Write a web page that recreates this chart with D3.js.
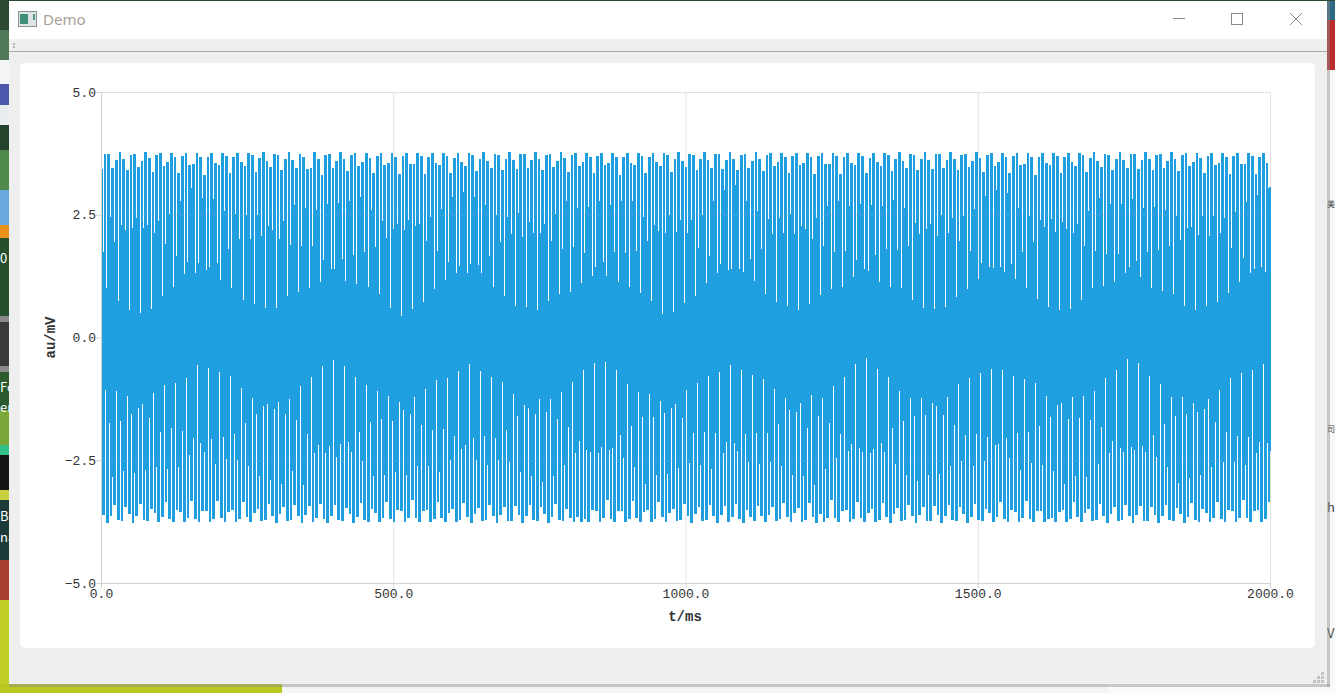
<!DOCTYPE html>
<html lang="en">
	<head>
		<meta charset="utf-8">
		<title>Demo</title>
		<script type="text/javascript" src="https://d3js.org/d3.v7.min.js"></script>
		<style type="text/css">
			body{
				margin: 0;
				overflow: hidden;
				background: #fff;
			}
			svg{
				display: block;
			}
			.tick text{
				font-family: "Liberation Mono", monospace;
				font-size: 13px;
				fill: #333;
			}
			.title{
				font-family: "Liberation Mono", monospace;
				font-size: 14px;
				font-weight: bold;
				fill: #333;
			}
		</style>
	</head>
	<body>
		<script type="text/javascript">

			//Axis labels and ticks
			var xTicks = [0, 500, 1000, 1500, 2000];
			var yTicks = [-5, -2.5, 0, 2.5, 5];
			var xTitle = "t/ms";
			var yTitle = "au/mV";

			//Sample spacing of the strokes, in ms
			var sampleStep = 6.29;
			var upperStart = 3.1;
			var lowerStart = 0.3;

			//Tops of the strokes, above zero (mV)
			var upperPeaks = [
				3.43,3.74,3.74,3.45,3.61,3.78,3.63,3.41,3.72,3.74,3.47,3.59,3.78,3.66,3.37,3.72,3.76,3.49,3.57,3.76,
				3.68,3.35,3.70,3.76,3.51,3.53,3.76,3.68,3.31,3.68,3.76,3.55,3.51,3.76,3.70,3.35,3.68,3.76,3.57,3.49,
				3.76,3.72,3.37,3.66,3.78,3.59,3.47,3.74,3.72,3.41,3.63,3.78,3.61,3.45,3.74,3.68,3.43,3.45,3.78,3.63,
				3.31,3.72,3.74,3.45,3.59,
				3.78,3.63,3.39,3.72,3.76,3.49,3.57,3.76,3.66,3.35,3.70,3.76,3.51,3.55,3.76,3.68,3.33,3.70,3.76,3.53,
				3.53,3.76,3.70,3.33,3.68,3.76,3.55,3.51,3.76,3.70,3.35,3.66,3.76,3.57,3.49,3.76,3.72,3.39,3.63,3.78,
				3.59,3.45,3.74,3.72,3.41,3.63,3.78,3.61,3.43,3.74,3.74,3.45,3.61,3.78,3.63,3.41,3.72,3.74,3.47,3.59,
				3.78,3.66,3.37,3.72,3.76,
				3.49,3.57,3.76,3.68,3.35,3.70,3.76,3.51,3.55,3.76,3.68,3.31,3.68,3.76,3.55,3.51,3.76,3.70,3.35,3.68,
				3.76,3.57,3.49,3.76,3.72,3.37,3.63,3.78,3.59,3.47,3.74,3.72,3.41,3.63,3.78,3.61,3.45,3.74,3.74,3.43,
				3.61,3.78,3.63,3.41,3.72,3.74,3.45,3.59,3.78,3.63,3.39,3.72,3.76,3.49,3.57,3.76,3.68,3.35,3.70,3.76,
				3.51,3.55,3.76,3.68,3.33,
				3.70,3.76,3.53,3.53,3.76,3.70,3.33,3.68,3.76,3.55,3.51,3.76,3.70,3.35,3.66,3.76,3.57,3.49,3.76,3.72,
				3.39,3.63,3.78,3.59,3.45,3.74,3.72,3.41,3.63,3.78,3.61,3.43,3.74,3.74,3.45,3.61,3.78,3.63,3.41,3.72,
				3.74,3.47,3.59,3.78,3.66,3.37,3.72,3.76,3.49,3.57,3.76,3.68,3.35,3.70,3.76,3.51,3.53,3.76,3.68,3.31,
				3.68,3.76,3.55,3.51,3.76,3.70,
				3.35,3.68,3.76,3.57,3.49,3.76,3.72,3.37,3.66,3.78,3.59,3.47,3.74,3.72,3.41,3.63,3.78,3.61,3.45,3.74,
				3.74,3.43,3.61,3.78,3.63,3.41,3.72,3.74,3.45,3.59,3.78,3.63,3.39,3.72,3.76,3.49,3.57,3.76,3.66,3.35,
				3.70,3.76,3.51,3.55,3.76,3.68,3.33,3.70,3.76,3.53,3.53,3.76,3.70,3.33,3.68,3.76,3.55,3.06
			];

			//How far down each slit between upper strokes reaches (mV)
			var upperDips = [
				1.75,1.00,2.46,1.95,0.75,2.29,2.19,0.56,2.22,2.43,0.49,2.24,2.29,0.59,2.12,2.37,0.85,1.91,2.51,1.03,
				1.65,2.78,1.29,1.54,3.05,1.32,1.52,2.85,1.37,1.44,2.83,1.52,1.17,2.58,1.81,1.00,2.51,2.01,0.76,2.49,
				2.01,0.69,2.49,2.07,0.61,2.28,2.19,0.61,2.01,2.37,0.85,1.88,2.70,0.93,1.87,2.64,1.00,1.86,2.60,1.14,
				1.58,2.71,1.39,1.39,2.73,
				1.60,1.15,2.77,1.68,1.09,2.87,1.75,1.03,2.60,1.85,0.88,2.37,2.03,0.61,2.21,2.32,0.44,2.19,2.39,0.58,
				2.27,2.32,0.73,1.96,2.46,0.99,1.76,2.62,1.17,1.54,2.87,1.32,1.45,2.97,1.31,1.50,2.87,1.48,1.31,2.70,
				1.66,1.03,2.49,1.94,0.85,2.46,2.11,0.64,2.53,2.05,0.63,2.36,2.13,0.56,2.13,2.31,0.75,1.96,2.51,0.88,
				1.80,2.78,0.93,1.84,2.64,
				1.12,1.73,2.66,1.26,1.44,2.77,1.54,1.26,2.70,1.75,1.14,2.78,1.73,1.03,2.78,1.77,0.91,2.46,1.96,0.75,
				2.30,2.17,0.48,2.13,2.49,0.52,2.15,2.39,0.71,2.13,2.39,0.85,1.83,2.49,1.12,1.65,2.77,1.32,1.50,3.00,
				1.38,1.40,3.11,1.40,1.34,2.78,1.60,1.16,2.58,1.81,0.89,2.41,2.11,0.73,2.44,2.13,0.65,2.51,2.11,0.57,
				2.27,2.20,0.69,2.01,2.44,
				0.86,1.87,2.68,0.99,1.75,2.77,1.03,1.77,2.68,1.24,1.58,2.72,1.40,1.36,2.70,1.69,1.14,2.68,1.81,1.03,
				2.80,1.79,1.01,2.64,1.87,0.77,2.34,2.11,0.61,2.20,2.32,0.59,2.07,2.50,0.63,2.13,2.44,0.83,1.97,2.48,
				0.99,1.77,2.62,1.20,1.52,2.89,1.44,1.42,3.01,1.44,1.34,2.95,1.50,1.20,2.64,1.75,1.01,2.48,1.95,0.79,
				2.40,2.26,0.63,2.42,2.15,0.55,
				2.36,2.20,0.59,2.13,2.32,0.77,1.87,2.58,1.01,1.77,2.85,1.05,1.71,2.72,1.14,1.71,2.72,1.32,1.44,2.83,
				1.56,1.24,2.64,1.75,1.01,2.66,1.79,0.95,2.60,1.87,0.89,2.48,1.99,0.65,2.22,2.26,0.57,2.09,2.48,0.65,
				2.07,2.48,0.73,2.13,2.44,0.91,1.83,2.56,1.14,1.62,2.75,1.32,1.40,2.90,1.44,1.34,3.04
			];

			//Ends of the strokes, below zero (mV)
			var lowerPeaks = [
				-3.62,-3.77,-3.64,-3.41,-3.72,-3.74,-3.45,-3.60,-3.77,-3.64,-3.39,-3.72,-3.74,-3.49,-3.58,-3.76,-3.66,-3.35,-3.70,-3.76,
				-3.51,-3.56,-3.76,-3.68,-3.33,-3.70,-3.76,-3.54,-3.54,-3.76,-3.70,-3.33,-3.68,-3.76,-3.56,-3.51,-3.76,-3.70,-3.35,-3.66,
				-3.76,-3.58,-3.49,-3.74,-3.72,-3.39,-3.64,-3.78,-3.60,-3.45,-3.74,-3.72,-3.41,-3.64,-3.78,-3.62,-3.43,-3.76,-3.68,-3.39,
				-3.70,-3.78,-3.64,-3.41,-3.72,
				-3.74,-3.48,-3.60,-3.78,-3.66,-3.37,-3.72,-3.76,-3.50,-3.58,-3.76,-3.68,-3.35,-3.70,-3.76,-3.51,-3.54,-3.76,-3.68,-3.31,
				-3.68,-3.76,-3.54,-3.51,-3.76,-3.70,-3.35,-3.68,-3.76,-3.58,-3.50,-3.76,-3.72,-3.37,-3.66,-3.78,-3.60,-3.48,-3.74,-3.72,
				-3.41,-3.64,-3.78,-3.62,-3.45,-3.74,-3.74,-3.43,-3.62,-3.78,-3.64,-3.41,-3.72,-3.74,-3.45,-3.60,-3.78,-3.66,-3.39,-3.72,
				-3.74,-3.50,-3.68,-3.76,-3.66,-3.76,
				-3.70,-3.76,-3.51,-3.54,-3.76,-3.68,-3.31,-3.70,-3.76,-3.54,-3.54,-3.76,-3.70,-3.33,-3.68,-3.76,-3.56,-3.51,-3.76,-3.70,
				-3.35,-3.66,-3.76,-3.58,-3.49,-3.74,-3.72,-3.39,-3.64,-3.78,-3.60,-3.45,-3.74,-3.72,-3.41,-3.64,-3.78,-3.62,-3.43,-3.76,
				-3.66,-3.39,-3.70,-3.78,-3.51,-3.66,-3.74,-3.43,-3.64,-3.76,-3.62,-3.45,-3.74,-3.70,-3.37,-3.66,-3.76,-3.58,-3.48,-3.76,
				-3.72,-3.37,-3.66,-3.78,-3.60,
				-3.76,-3.68,-3.31,-3.68,-3.76,-3.54,-3.51,-3.76,-3.70,-3.35,-3.68,-3.76,-3.58,-3.50,-3.76,-3.72,-3.37,-3.66,-3.78,-3.60,
				-3.48,-3.74,-3.72,-3.41,-3.64,-3.78,-3.62,-3.45,-3.74,-3.74,-3.43,-3.62,-3.78,-3.64,-3.41,-3.72,-3.74,-3.45,-3.60,-3.78,
				-3.66,-3.39,-3.72,-3.74,-3.50,-3.58,-3.76,-3.66,-3.35,-3.70,-3.76,-3.51,-3.56,-3.76,-3.68,-3.33,-3.70,-3.76,-3.54,-3.54,
				-3.76,-3.70,-3.68,-3.76,-3.56,
				-3.51,-3.76,-3.70,-3.35,-3.66,-3.76,-3.58,-3.49,-3.74,-3.72,-3.39,-3.64,-3.78,-3.60,-3.45,-3.74,-3.72,-3.41,-3.64,-3.78,
				-3.62,-3.43,-3.74,-3.74,-3.45,-3.62,-3.78,-3.64,-3.41,-3.72,-3.74,-3.48,-3.60,-3.78,-3.66,-3.37,-3.72,-3.76,-3.50,-3.58,
				-3.76,-3.68,-3.35,-3.70,-3.76,-3.51,-3.54,-3.76,-3.68,-3.31,-3.68,-3.76,-3.54,-3.51,-3.76,-3.70,-3.35,-3.35
			];

			//How far up each slit between lower strokes reaches (mV)
			var lowerDips = [
				-3.06,-1.07,-1.74,-2.84,-1.09,-1.70,-2.72,-1.19,-1.56,-2.75,-1.44,-1.36,-2.70,-1.64,-1.13,-2.64,-1.93,-0.97,-2.68,-1.84,
				-0.93,-2.64,-1.91,-0.83,-2.39,-2.05,-0.56,-2.15,-2.33,-0.62,-2.07,-2.58,-0.70,-2.03,-2.48,-0.79,-1.97,-2.50,-1.03,-1.74,
				-2.62,-1.23,-1.56,-2.82,-1.40,-1.36,-2.90,-1.46,-1.32,-2.99,-1.56,-1.25,-2.72,-1.68,-0.99,-3.01,-1.97,-0.81,-2.35,-2.19,
				-0.58,-2.35,-2.21,-0.46,-2.44,
				-2.17,-0.58,-2.13,-2.33,-0.81,-1.93,-2.52,-0.97,-1.72,-2.82,-1.09,-1.66,-2.80,-1.19,-1.70,-2.74,-1.32,-1.48,-2.80,-1.56,
				-1.21,-2.62,-1.78,-1.05,-2.62,-1.89,-0.87,-2.74,-1.87,-0.83,-2.50,-2.01,-0.68,-2.27,-2.19,-0.54,-2.05,-2.50,-0.68,-2.01,
				-2.60,-0.81,-2.05,-2.50,-0.91,-1.89,-2.54,-1.15,-1.60,-2.74,-1.38,-1.44,-2.82,-1.56,-1.25,-2.94,-1.52,-1.25,-2.82,-1.66,
				-1.11,-2.60,-1.82,-0.91,-2.35,-2.11,
				-0.66,-2.29,-2.33,-0.52,-2.35,-2.23,-0.50,-2.29,-2.25,-0.66,-1.99,-2.46,-0.95,-1.80,-2.64,-1.11,-1.62,-2.99,-1.15,-1.62,
				-2.80,-1.30,-1.54,-2.78,-1.44,-1.36,-2.66,-1.64,-1.07,-2.56,-1.95,-0.93,-2.60,-1.93,-0.79,-2.68,-1.95,-0.70,-2.35,-2.13,
				-0.56,-2.15,-2.31,-0.66,-1.97,-2.54,-0.77,-1.95,-2.58,-0.85,-1.95,-2.54,-1.05,-1.76,-2.62,-1.23,-1.48,-2.80,-1.52,-1.34,
				-2.82,-1.85,-1.17,-3.01,-1.60,
				-1.23,-2.68,-1.74,-0.99,-2.46,-1.97,-0.81,-2.31,-2.17,-0.54,-2.25,-2.33,-0.42,-2.35,-2.27,-0.64,-2.15,-2.33,-0.81,-1.84,
				-2.58,-1.09,-1.70,-2.80,-1.23,-1.60,-2.92,-1.23,-1.58,-2.80,-1.34,-1.40,-2.77,-1.58,-1.21,-2.62,-1.78,-0.95,-2.52,-1.99,
				-0.83,-2.62,-1.97,-0.72,-2.52,-2.03,-0.64,-2.19,-2.17,-0.66,-2.05,-2.46,-0.79,-1.95,-2.70,-0.85,-1.93,-2.56,-0.93,-1.80,
				-2.60,-1.19,-1.62,-2.72,-1.38,
				-1.34,-2.99,-1.66,-1.21,-2.82,-1.64,-1.19,-2.84,-1.68,-1.09,-2.58,-1.82,-0.83,-2.35,-2.11,-0.66,-2.25,-2.33,-0.44,-2.23,
				-2.29,-0.52,-2.21,-2.33,-0.79,-1.99,-2.44,-0.95,-1.76,-2.64,-1.21,-1.60,-2.97,-1.21,-1.56,-2.86,-1.34,-1.52,-2.80,-1.46,
				-1.25,-2.64,-1.72,-1.07,-2.54,-1.93,-0.83,-2.54,-2.01,-0.72,-2.60,-2.03,-0.66,-2.35,-2.13,-0.54,-2.15,-2.31
			];

			//Desktop behind the window: [from, to, colour]
			var leftBands = [[0,30,"#2c4a32"],[30,60,"#4f7a58"],[60,84,"#f2f4f6"],[84,105,"#4a58ac"],[105,125,"#e9edf0"],[125,150,"#24422c"],[150,190,"#4f8a4a"],[190,225,"#6aa8e0"],[225,238,"#e8921c"],[238,316,"#24502c"],[316,322,"#8a8a8a"],[322,366,"#3a3a3a"],[366,372,"#8a8a8a"],[372,410,"#2a5a2e"],[410,445,"#7aa838"],[445,455,"#30c088"],[455,490,"#141414"],[490,500,"#c8d040"],[500,560,"#1c3a38"],[560,600,"#a83c30"],[600,693,"#c0d028"]];
			var rightBands = [[0,20,"#2c6a84"],[20,70,"#b82c2c"],[70,693,"#f8f8f8"]];
			var bottomBands = [[0,282,"#b8c820"],[282,1108,"#f4f4f4"],[1108,1335,"#fafafa"]];
			var desktopText = [[0,263,"0",13],[0,392,"Fo",13],[0,412,"er",13],[0,521,"Br",13],[0,542,"na",13],[1327,207,"美",8],[1327,432,"司",8],[1327,512,"h",13],[1327,638,"V",13]];

			var svg = d3.select("body")
						.append("svg")
						.attr("width", 1335)
						.attr("height", 693);

			//Desktop
			svg.selectAll(".left")
				.data(leftBands)
				.enter()
				.append("rect")
				.attr("x", 0)
				.attr("y", function(d) {return d[0];})
				.attr("width", 10)
				.attr("height", function(d) {return d[1]-d[0];})
				.attr("fill", function(d) {return d[2];});

			svg.selectAll(".right")
				.data(rightBands)
				.enter()
				.append("rect")
				.attr("x", 1325)
				.attr("y", function(d) {return d[0];})
				.attr("width", 10)
				.attr("height", function(d) {return d[1]-d[0];})
				.attr("fill", function(d) {return d[2];});

			svg.selectAll(".bottom")
				.data(bottomBands)
				.enter()
				.append("rect")
				.attr("x", function(d) {return d[0];})
				.attr("y", 684)
				.attr("width", function(d) {return d[1]-d[0];})
				.attr("height", 9)
				.attr("fill", function(d) {return d[2];});

			svg.append("rect").attr("x", 0).attr("y", 0).attr("width", 1335).attr("height", 1).attr("fill", "#2c4a32");

			svg.selectAll(".desktopText")
				.data(desktopText)
				.enter()
				.append("text")
				.attr("x", function(d) {return d[0];})
				.attr("y", function(d) {return d[1];})
				.attr("font-family", "Noto Sans CJK SC, Noto Sans, sans-serif")
				.attr("font-size", function(d) {return d[3];})
				.attr("fill", function(d) {return d[0] > 0 ? "#444" : "#fff";})
				.text(function(d) {return d[2];});

			//Window
			svg.append("rect").attr("x", 1327).attr("y", 1).attr("width", 3).attr("height", 686).attr("fill", "#8c8c8c").attr("opacity", 0.45);
			svg.append("rect").attr("x", 9).attr("y", 684).attr("width", 1321).attr("height", 3).attr("fill", "#8c8c8c").attr("opacity", 0.45);
			svg.append("rect").attr("x", 9).attr("y", 1).attr("width", 1318).attr("height", 683).attr("fill", "#efefef");
			svg.append("rect").attr("x", 9).attr("y", 1).attr("width", 1318).attr("height", 38).attr("fill", "#fff");
			svg.append("rect").attr("x", 9).attr("y", 51).attr("width", 1318).attr("height", 1).attr("fill", "#a8a8a8");
			svg.append("rect").attr("x", 20).attr("y", 63).attr("width", 1295).attr("height", 585).attr("rx", 5).attr("fill", "#fff");

			//Title bar
			svg.append("rect").attr("x", 18.5).attr("y", 11.5).attr("width", 18).attr("height", 15).attr("fill", "#dfe4e4").attr("stroke", "#8a9498");
			svg.append("rect").attr("x", 20).attr("y", 14).attr("width", 8).attr("height", 10).attr("fill", "#3f8f78");
			svg.append("rect").attr("x", 33).attr("y", 14).attr("width", 2).attr("height", 6).attr("fill", "#4f9a88");
			svg.append("text").attr("x", 43).attr("y", 25).attr("font-family", "Noto Sans, sans-serif").attr("font-size", 15).attr("fill", "#a8a095").text("Demo");
			svg.append("line").attr("x1", 1173).attr("x2", 1185).attr("y1", 18.5).attr("y2", 18.5).attr("stroke", "#888");
			svg.append("rect").attr("x", 1231.5).attr("y", 13.5).attr("width", 11).attr("height", 11).attr("fill", "none").attr("stroke", "#888");
			svg.append("line").attr("x1", 1290).attr("x2", 1302).attr("y1", 13).attr("y2", 25).attr("stroke", "#888");
			svg.append("line").attr("x1", 1302).attr("x2", 1290).attr("y1", 13).attr("y2", 25).attr("stroke", "#888");

			//Grips
			svg.selectAll(".toolGrip")
				.data([43, 46])
				.enter()
				.append("rect")
				.attr("x", 13)
				.attr("y", function(d) {return d;})
				.attr("width", 2)
				.attr("height", 2)
				.attr("fill", "#b4b4b4");

			svg.selectAll(".sizeGrip")
				.data([[1321,672],[1317,676],[1321,676],[1313,680],[1317,680],[1321,680]])
				.enter()
				.append("rect")
				.attr("x", function(d) {return d[0];})
				.attr("y", function(d) {return d[1];})
				.attr("width", 3)
				.attr("height", 3)
				.attr("fill", "#c4c4c4");

			//Scales
			var x = d3.scaleLinear().domain([0, 2000]).range([101, 1270]);
			var y = d3.scaleLinear().domain([-5, 5]).range([583, 92]);

			//Grid
			var grid = svg.append("g").attr("class", "grid");

			grid.selectAll(".gridX")
				.data(xTicks)
				.enter()
				.append("line")
				.attr("x1", function(d) {return x(d)+0.5;})
				.attr("x2", function(d) {return x(d)+0.5;})
				.attr("y1", y(5))
				.attr("y2", y(-5))
				.attr("stroke", "#e2e2e2");

			grid.selectAll(".gridY")
				.data(yTicks)
				.enter()
				.append("line")
				.attr("x1", x(0))
				.attr("x2", x(2000))
				.attr("y1", function(d) {return y(d)+0.5;})
				.attr("y2", function(d) {return y(d)+0.5;})
				.attr("stroke", "#e2e2e2");

			//Slit positions in ms
			var upperTimes = upperDips.map(function(d, i) {return upperStart+i*sampleStep;});
			var lowerTimes = lowerDips.map(function(d, i) {return lowerStart+i*sampleStep;});

			//Pixel edge of a slit
			function slit(t) {
				return Math.min(Math.floor(x(t)+0.5), x(2000)+1);
			}

			//crisp edges keep the aliased look and close the seam at zero
			var wave = svg.append("g")
						.attr("class", "wave")
						.attr("fill", "#1f9ee0")
						.attr("shape-rendering", "crispEdges");

			//Strokes between slits, upper half
			wave.selectAll(".upper")
				.data(upperPeaks)
				.enter()
				.append("rect")
				.attr("class", "upper")
				.attr("x", function(d, i) {return i == 0 ? x(0) : slit(upperTimes[i-1])+1;})
				.attr("y", function(d) {return y(d);})
				.attr("width", function(d, i) {
					var left = i == 0 ? x(0) : slit(upperTimes[i-1])+1;
					var right = i < upperTimes.length ? slit(upperTimes[i]) : x(2000)+1;
					return Math.max(0, right-left);
				})
				.attr("height", function(d) {return y(0)-y(d)+1;});

			//Filled part below each upper slit
			wave.selectAll(".upperFill")
				.data(upperDips)
				.enter()
				.append("rect")
				.attr("class", "upperFill")
				.attr("x", function(d, i) {return slit(upperTimes[i]);})
				.attr("y", function(d) {return y(d);})
				.attr("width", 1)
				.attr("height", function(d) {return y(0)-y(d)+1;});

			//Strokes between slits, lower half
			wave.selectAll(".lower")
				.data(lowerPeaks)
				.enter()
				.append("rect")
				.attr("class", "lower")
				.attr("x", function(d, i) {return slit(lowerTimes[i])+1;})
				.attr("y", y(0))
				.attr("width", function(d, i) {
					var right = i+1 < lowerTimes.length ? slit(lowerTimes[i+1]) : x(2000)+1;
					return Math.max(0, right-slit(lowerTimes[i])-1);
				})
				.attr("height", function(d) {return y(d)-y(0);});

			//Filled part above each lower slit
			wave.selectAll(".lowerFill")
				.data(lowerDips)
				.enter()
				.append("rect")
				.attr("class", "lowerFill")
				.attr("x", function(d, i) {return slit(lowerTimes[i]);})
				.attr("y", y(0))
				.attr("width", 1)
				.attr("height", function(d) {return y(d)-y(0);});

			//Gridlines show faintly through the wave, not at zero
			svg.selectAll(".gridOver")
				.data([-2.5, 2.5])
				.enter()
				.append("line")
				.attr("x1", x(0))
				.attr("x2", x(2000)+1)
				.attr("y1", function(d) {return y(d)+0.5;})
				.attr("y2", function(d) {return y(d)+0.5;})
				.attr("stroke", "#ddd")
				.attr("opacity", 0.12);

			//Axes
			var xAxis = d3.axisBottom(x)
						.tickValues(xTicks)
						.tickFormat(d3.format(".1f"))
						.tickSize(5)
						.tickSizeOuter(0)
						.tickPadding(1);

			var yAxis = d3.axisLeft(y)
						.tickValues(yTicks)
						.tickFormat(d3.format(".1f"))
						.tickSize(5)
						.tickSizeOuter(0)
						.tickPadding(0);

			var gx = svg.append("g").attr("transform", "translate(0,583)").call(xAxis);
			var gy = svg.append("g").attr("transform", "translate(101,0)").call(yAxis);
			gx.selectAll("line, path").attr("stroke", "#d2d2d2");
			gy.selectAll("line, path").attr("stroke", "#d2d2d2");

			svg.append("text")
				.attr("class", "title")
				.attr("x", 685)
				.attr("y", 621)
				.attr("text-anchor", "middle")
				.text(xTitle);

			svg.append("text")
				.attr("class", "title")
				.attr("transform", "translate(55,337.5) rotate(-90)")
				.attr("text-anchor", "middle")
				.text(yTitle);

		</script>
	</body>
</html>
